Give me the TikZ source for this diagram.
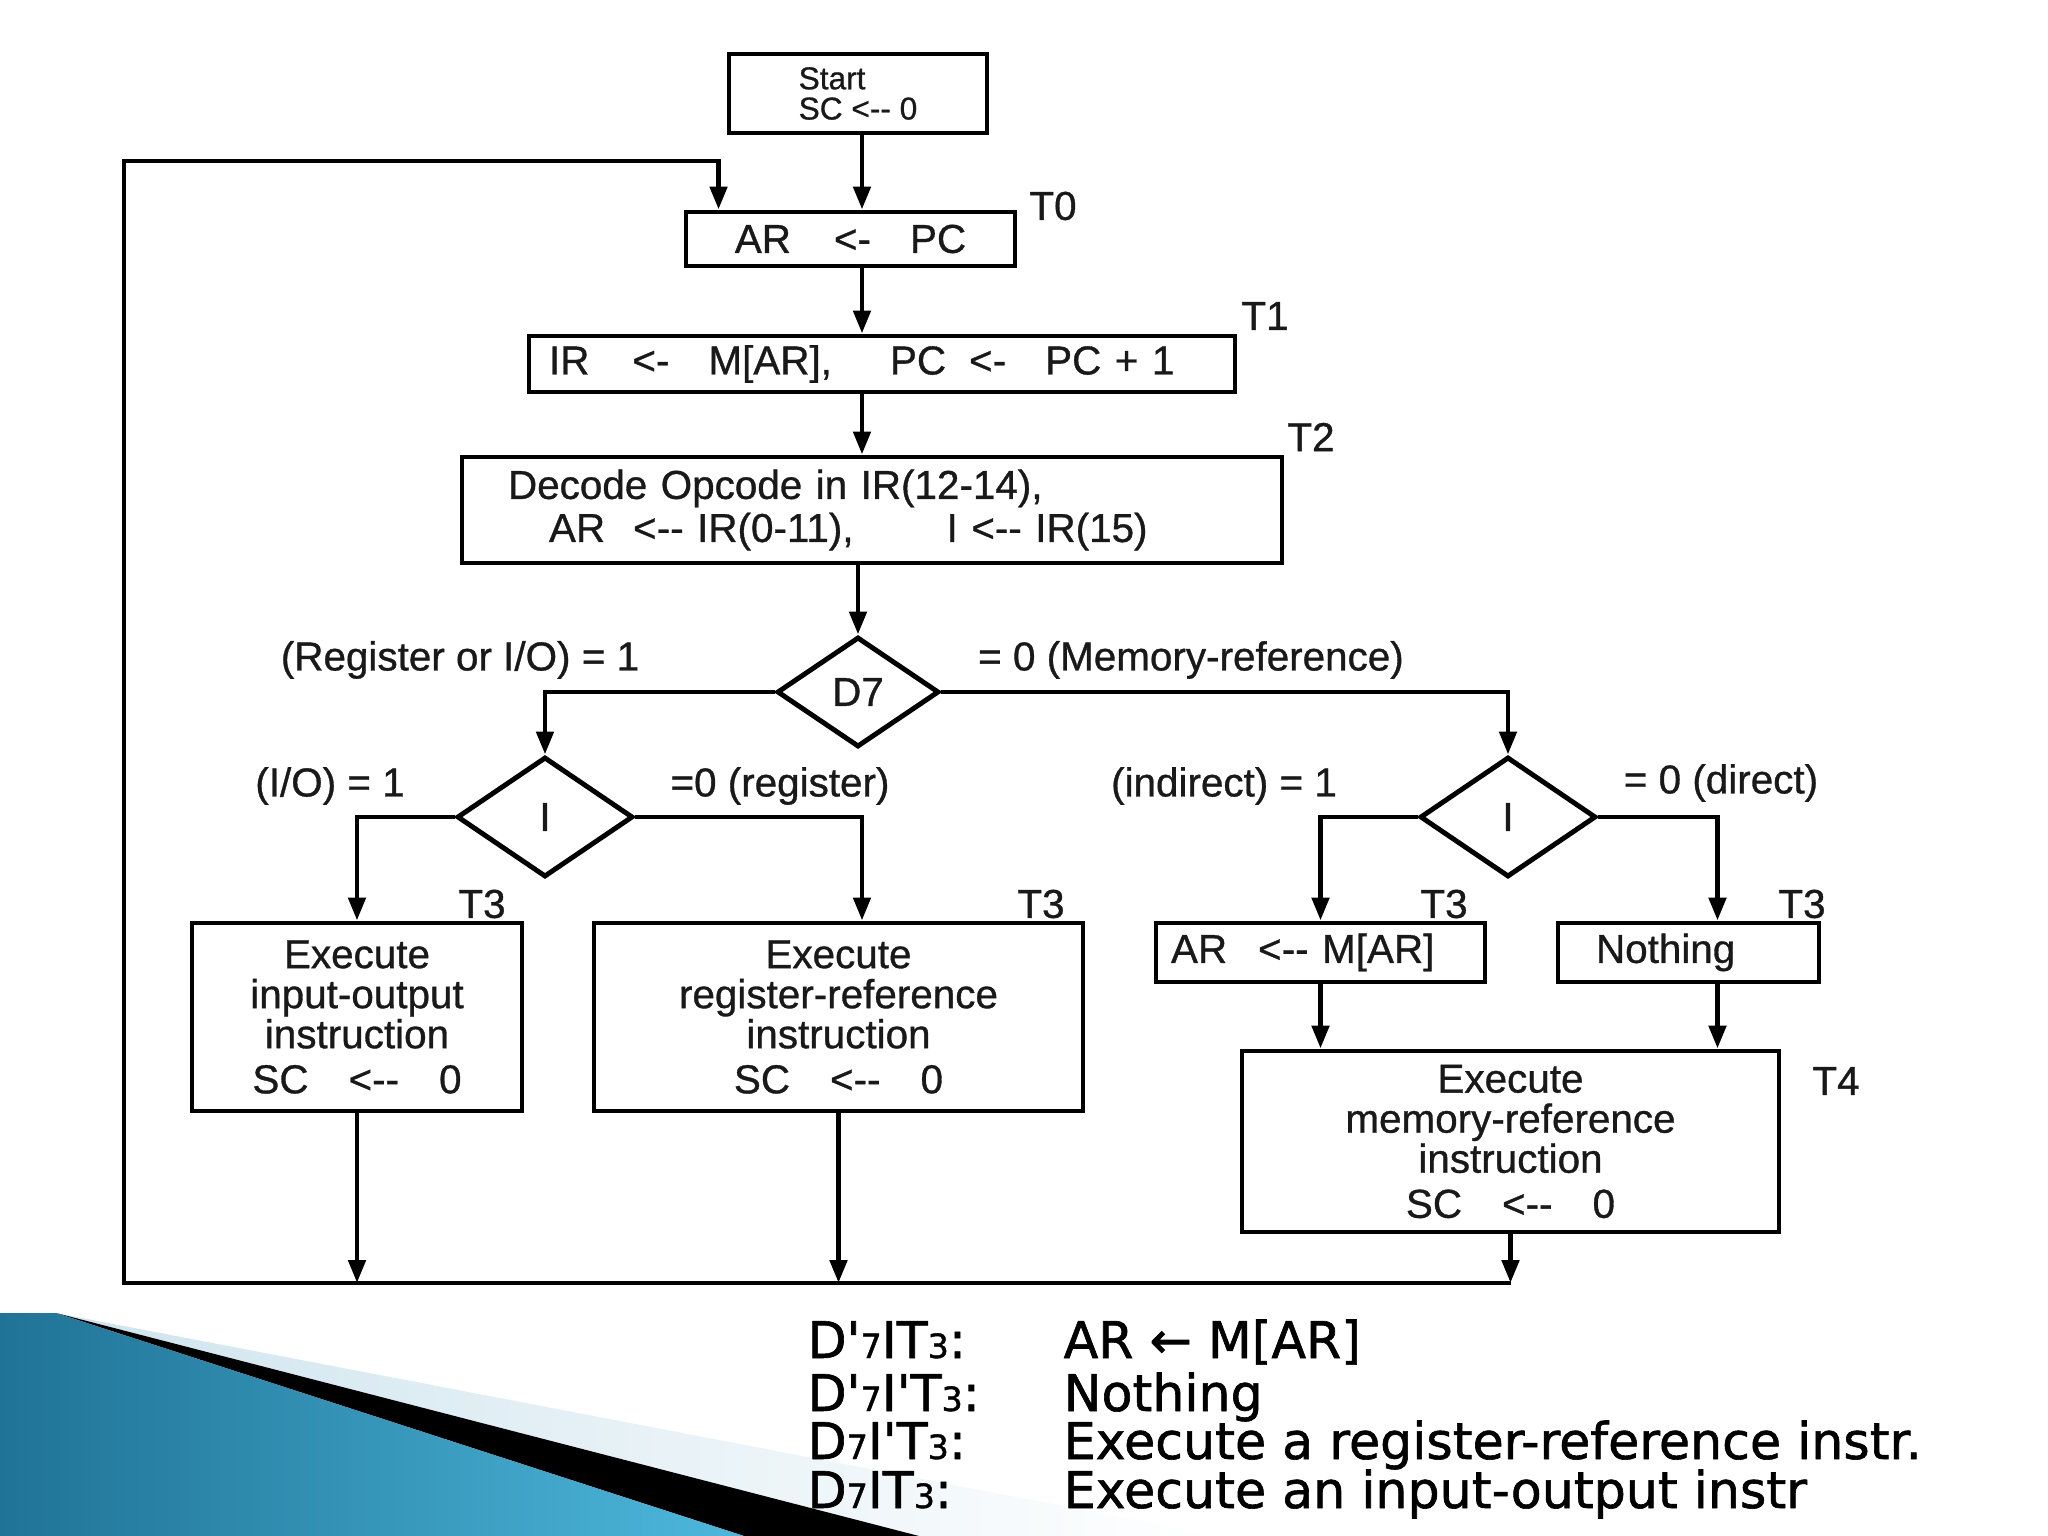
\documentclass[tikz,border=0pt]{standalone}
\usepackage{fontspec}
\usepackage{tikz}
\usetikzlibrary{arrows.meta,positioning,shapes.geometric}
\newfontfamily\flowfont[FakeBold=0.8]{Liberation Sans}
\newfontfamily\notefont[FakeBold=1.2]{DejaVu Sans}
\newcommand{\flowsize}{\fontsize{11.5pt}{11.4pt}\selectfont}
\newcommand{\lowdig}[1]{{\fontsize{9.5pt}{9.5pt}\selectfont #1}}
\definecolor{decoblue}{HTML}{1F7396}
\definecolor{decobluelt}{HTML}{4DB8DC}
\definecolor{decopale}{HTML}{CFE4EE}

\begin{document}
\begin{tikzpicture}[
    box/.style={draw, line width=1.4pt, align=center, inner sep=0pt, font=\flowfont\flowsize, text=black!90},
    cond/.style={draw, diamond, line width=1.4pt, inner sep=0pt, font=\flowfont\flowsize, text=black!90},
    tlab/.style={font=\flowfont\flowsize, text=black!90},
    arrow/.style={-{Triangle[length=0.23cm,width=0.17cm]}, line width=1.4pt},
    note/.style={anchor=base west, inner sep=0pt, font=\notefont\fontsize{14.4pt}{14.4pt}\selectfont}
]
\useasboundingbox (0,0) rectangle (20.48,-15.36);

% corner decoration
\shade[left color=decopale, right color=white] (0.56,-13.13) -- (12.2,-15.36) -- (9.19,-15.36) -- cycle;
\fill[black] (0.56,-13.13) -- (9.19,-15.36) -- (7.44,-15.36) -- cycle;
\shade[left color=decoblue, right color=decobluelt] (0,-13.13) -- (0.56,-13.13) -- (7.44,-15.36) -- (0,-15.36) -- cycle;

% fetch and decode
\node[box, minimum width=2.58cm, minimum height=0.79cm, align=left, font=\flowfont\fontsize{9pt}{8.6pt}\selectfont] (start) at (8.58,-0.935) {Start\\SC <-- 0};
\node[box, minimum width=3.29cm, minimum height=0.54cm] (ar) at (8.505,-2.39) {AR\hspace{0.43cm}<-\hspace{0.39cm}PC};
\node[box, minimum height=0.56cm, text width=6.66cm, inner xsep=0.2cm, align=left] (ir) at (8.82,-3.64) {IR\hspace{0.43cm}<-\hspace{0.39cm}M[AR],\hspace{0.58cm}PC\hspace{0.23cm}<-\hspace{0.39cm}PC + 1};
\node[box, minimum height=1.06cm, text width=7.28cm, inner xsep=0.46cm, align=left] (decode) at (8.72,-5.10) {Decode Opcode in IR(12-14),\\[0.03cm]\hspace*{0.41cm}AR\hspace{0.28cm}<-- IR(0-11),\hspace{0.93cm}I <-- IR(15)};
\node[tlab] (t0) at (10.53,-2.06) {T0};
\node[tlab] (t1) at (12.65,-3.16) {T1};
\node[tlab] (t2) at (13.11,-4.37) {T2};

% decisions
\node[cond, minimum width=1.62cm, minimum height=1.10cm] (d7) at (8.58,-6.92) {D7};
\node[cond, minimum width=1.76cm, minimum height=1.20cm] (ioflag) at (5.45,-8.17) {I};
\node[cond, minimum width=1.76cm, minimum height=1.20cm] (memflag) at (15.08,-8.17) {I};
\node[tlab] (lregio) at (4.60,-6.60) {(Register or I/O) = 1};
\node[tlab] (lmemref) at (11.91,-6.60) {= 0 (Memory-reference)};
\node[tlab] (lio) at (3.30,-7.86) {(I/O) = 1};
\node[tlab] (lreg) at (7.80,-7.86) {=0 (register)};
\node[tlab] (lind) at (12.24,-7.86) {(indirect) = 1};
\node[tlab] (ldir) at (17.21,-7.83) {= 0 (direct)};

% execute
\node[box, minimum width=3.30cm, minimum height=1.88cm] (iobox) at (3.57,-10.17) {Execute\\input-output\\instruction\\[0.05cm]SC\hspace{0.4cm}<--\hspace{0.4cm}0};
\node[box, minimum width=4.89cm, minimum height=1.88cm] (regbox) at (8.385,-10.17) {Execute\\register-reference\\instruction\\[0.05cm]SC\hspace{0.4cm}<--\hspace{0.4cm}0};
\node[box, minimum height=0.59cm, text width=2.99cm, inner xsep=0.15cm, align=left] (indbox) at (13.205,-9.525) {AR\hspace{0.31cm}<-- M[AR]};
\node[box, minimum height=0.59cm, text width=1.85cm, inner xsep=0.38cm, align=left] (dirbox) at (16.885,-9.525) {Nothing};
\node[box, minimum width=5.37cm, minimum height=1.81cm] (membox) at (15.105,-11.415) {Execute\\memory-reference\\instruction\\[0.05cm]SC\hspace{0.4cm}<--\hspace{0.4cm}0};
\node[tlab] (t3a) at (4.82,-9.04) {T3};
\node[tlab] (t3b) at (10.41,-9.04) {T3};
\node[tlab] (t3c) at (14.44,-9.04) {T3};
\node[tlab] (t3d) at (18.02,-9.04) {T3};
\node[tlab] (t4) at (18.36,-10.81) {T4};

\coordinate (col) at (8.62,0);
\coordinate (base) at (1.24,-12.83);
\coordinate (top) at (1.24,-1.61);
\coordinate (loopin) at ([xshift=3.5mm]ar.north west);
\coordinate (dirin) at ([xshift=2.9mm]dirbox.north);
\coordinate (dirout) at ([xshift=2.9mm]dirbox.south);

\draw[arrow] (start.south -| col) -- (ar.north -| col);
\draw[arrow] (ar.south -| col) -- (ir.north -| col);
\draw[arrow] (ir.south -| col) -- (decode.north -| col);
\draw[arrow] (decode.south -| d7) -- (d7.north);
\draw[arrow] (d7.west) -| (ioflag.north);
\draw[arrow] (d7.east) -| (memflag.north);
\draw[arrow] (ioflag.west) -| (iobox.north);
\draw[arrow] (ioflag.east) -| (regbox.north -| col);
\draw[arrow] (memflag.west) -| (indbox.north);
\draw[arrow] (memflag.east) -| (dirin);
\draw[arrow] (indbox.south) -- (indbox.south |- membox.north);
\draw[arrow] (dirout) -- (dirout |- membox.north);
\draw[arrow] (iobox.south) -- (iobox.south |- base);
\draw[arrow] (regbox.south) -- (regbox.south |- base);
\draw[arrow] (membox.south) -- (membox.south |- base);
\draw[arrow] (membox.south |- base) -- (base) -- (top) -| (loopin);

% timing conditions
\node[note] (row1) at (8.07,-13.58) {\makebox[2.56cm][l]{D'\lowdig{7}IT\lowdig{3}:}AR ← M[AR]};
\node[note] (row2) at (8.07,-14.11) {\makebox[2.56cm][l]{D'\lowdig{7}I'T\lowdig{3}:}Nothing};
\node[note] (row3) at (8.07,-14.59) {\makebox[2.56cm][l]{D\lowdig{7}I'T\lowdig{3}:}Execute a register-reference instr.};
\node[note] (row4) at (8.07,-15.08) {\makebox[2.56cm][l]{D\lowdig{7}IT\lowdig{3}:}Execute an input-output instr};
\end{tikzpicture}
\end{document}
